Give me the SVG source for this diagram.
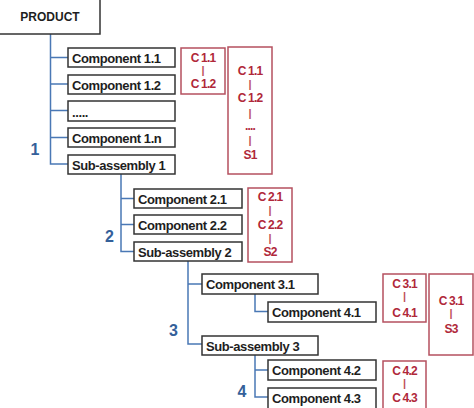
<svg xmlns="http://www.w3.org/2000/svg" width="474" height="408" viewBox="0 0 474 408">
<style>
.bx{fill:#fff;stroke:#333;stroke-width:1.5}
.rb{fill:none;stroke:#b5505f;stroke-width:1.5}
.t{font-family:"Liberation Sans",Arial,sans-serif;font-weight:bold;font-size:13px;fill:#1e1e1e;letter-spacing:-0.4px}
.p{font-family:"Liberation Sans",Arial,sans-serif;font-weight:bold;font-size:12px;fill:#1e1e1e;text-anchor:middle}
.r{font-family:"Liberation Sans",Arial,sans-serif;font-weight:bold;font-size:12px;fill:#b0283a;text-anchor:middle;letter-spacing:-0.8px}
.s{font-family:"Liberation Sans",Arial,sans-serif;font-weight:bold;font-size:11px;fill:#c0505a;text-anchor:middle}
.n{font-family:"Liberation Sans",Arial,sans-serif;font-weight:bold;font-size:16px;fill:#34609a;text-anchor:middle}
.c{fill:none;stroke:#4a78b5;stroke-width:1.5}
</style>
<g id="connectors">
<path class="c" d="M50.5 34V164H68M50.5 57.5H68M50.5 84H68M50.5 110.5H68M50.5 137.5H68"/>
<path class="c" d="M121 174V251.5H134M121 198.5H134M121 224.5H134"/>
<path class="c" d="M188 261V344H202M188 284H202"/>
<path class="c" d="M255 294V311.5H268"/>
<path class="c" d="M255 355V397H268M255 370H268"/>
</g>
<g id="labels">
<text class="n" x="35" y="155">1</text>
<text class="n" x="109.5" y="242">2</text>
<text class="n" x="173.5" y="336">3</text>
<text class="n" x="242" y="397">4</text>
</g>
<g id="product"><rect class="bx" x="-1" y="-1" width="101" height="35"/><text class="p" x="50" y="21">PRODUCT</text></g>
<g id="c11"><rect class="bx" x="68" y="48" width="107" height="19"/><text class="t" x="72" y="63">Component 1.1</text></g>
<g id="c12"><rect class="bx" x="68" y="75" width="107" height="19"/><text class="t" x="72" y="90">Component 1.2</text></g>
<g id="cdots"><rect class="bx" x="68" y="101" width="107" height="20"/><text class="t" x="72" y="117">.....</text></g>
<g id="c1n"><rect class="bx" x="68" y="128" width="107" height="19"/><text class="t" x="72" y="143">Component 1.n</text></g>
<g id="s1"><rect class="bx" x="68" y="155" width="107" height="19"/><text class="t" x="72" y="170">Sub-assembly 1</text></g>
<g id="c21"><rect class="bx" x="134" y="189" width="108" height="19"/><text class="t" x="138" y="204">Component 2.1</text></g>
<g id="c22"><rect class="bx" x="134" y="215" width="108" height="19"/><text class="t" x="138" y="230">Component 2.2</text></g>
<g id="s2"><rect class="bx" x="134" y="242" width="108" height="19"/><text class="t" x="138" y="257">Sub-assembly 2</text></g>
<g id="c31"><rect class="bx" x="202" y="274" width="116" height="20"/><text class="t" x="206" y="289">Component 3.1</text></g>
<g id="s3"><rect class="bx" x="202" y="336" width="116" height="19"/><text class="t" x="206" y="351">Sub-assembly 3</text></g>
<g id="c41"><rect class="bx" x="268" y="302" width="108" height="20"/><text class="t" x="272" y="317">Component 4.1</text></g>
<g id="c42"><rect class="bx" x="268" y="360" width="108" height="20"/><text class="t" x="272" y="375">Component 4.2</text></g>
<g id="c43"><rect class="bx" x="268" y="388" width="108" height="22"/><text class="t" x="272" y="403">Component 4.3</text></g>
<g id="r1"><rect class="rb" x="181" y="48" width="44" height="46"/>
<text class="r" x="203" y="62">C 1.1</text><text class="s" x="203" y="74">|</text><text class="r" x="203" y="88">C 1.2</text></g>
<g id="r2"><rect class="rb" x="228" y="47" width="44" height="127"/>
<text class="r" x="250" y="75">C 1.1</text><text class="s" x="250" y="88">|</text><text class="r" x="250" y="102">C 1.2</text><text class="s" x="250" y="117">|</text><text class="r" x="250" y="130">....</text><text class="s" x="250" y="144">|</text><text class="r" x="250" y="159">S1</text></g>
<g id="r3"><rect class="rb" x="248" y="188" width="44" height="74"/>
<text class="r" x="270" y="201">C 2.1</text><text class="s" x="270" y="214">|</text><text class="r" x="270" y="229">C 2.2</text><text class="s" x="270" y="242">|</text><text class="r" x="270" y="256">S2</text></g>
<g id="r4"><rect class="rb" x="383" y="274" width="43" height="48"/>
<text class="r" x="404.5" y="288">C 3.1</text><text class="s" x="404.5" y="300">|</text><text class="r" x="404.5" y="317">C 4.1</text></g>
<g id="r5"><rect class="rb" x="429" y="274" width="44" height="81"/>
<text class="r" x="451" y="305">C 3.1</text><text class="s" x="451" y="317">|</text><text class="r" x="451" y="333">S3</text></g>
<g id="r6"><rect class="rb" x="383" y="361" width="43" height="50"/>
<text class="r" x="404.5" y="375">C 4.2</text><text class="s" x="404.5" y="387">|</text><text class="r" x="404.5" y="402">C 4.3</text></g>
</svg>
